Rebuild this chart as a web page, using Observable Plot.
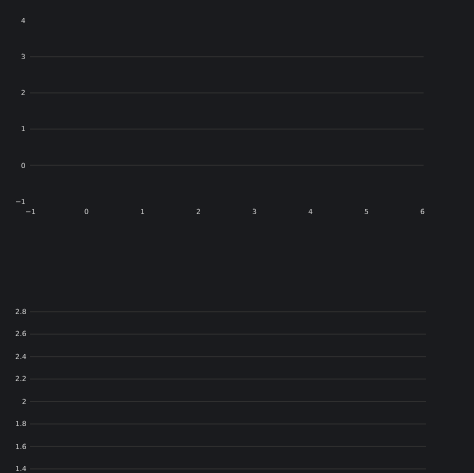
<!DOCTYPE html>
<html>
<head>
<meta charset="utf-8">
<script src="https://cdn.jsdelivr.net/npm/d3@7"></script>
<script src="https://cdn.jsdelivr.net/npm/@observablehq/plot@0.6"></script>
<style>
  html, body { margin: 0; padding: 0; background: #1a1b1e; overflow: hidden; }
  #top, #bottom { display: block; }
  #gap { height: 65px; }
  svg { display: block; filter: grayscale(1); }
</style>
</head>
<body>
<div id="top"></div>
<div id="gap"></div>
<div id="bottom"></div>
<script>
// Top chart
const topXDomain = [-1, 6];
const topYDomain = [-1, 4];
const topXTicks = [-1, 0, 1, 2, 3, 4, 5, 6];
const topYTicks = [-1, 0, 1, 2, 3, 4];
const topGridTicks = [0, 1, 2, 3];

// Bottom chart (cut off at the bottom edge of the window)
const bottomYDomain = [1.35, 2.9];
const bottomYTicks = [1.4, 1.6, 1.8, 2.0, 2.2, 2.4, 2.6, 2.8];

const textColor = "#cfd0d3";
const gridColor = "#2e3035";

const topPlot = Plot.plot({
  width: 474,
  height: 225,
  marginLeft: 30,
  marginRight: 52,
  marginTop: 20,
  marginBottom: 24,
  style: { background: "transparent", color: textColor, fontSize: "7px", fontFamily: "DejaVu Sans, sans-serif" },
  x: { domain: topXDomain },
  y: { domain: topYDomain },
  marks: [
    Plot.gridY(topGridTicks, { stroke: gridColor, strokeOpacity: 1, strokeWidth: 1, x1: -1, x2: 6.03 }),
    Plot.axisX(topXTicks, { tickSize: 0, tickPadding: 8, fill: textColor, tickFormat: d3.format("") }),
    Plot.axisY(topYTicks, { tickSize: 0, tickPadding: 5, fill: textColor, tickFormat: d3.format("") })
  ]
});
document.getElementById("top").append(topPlot);

const bottomPlot = Plot.plot({
  width: 474,
  height: 184,
  marginLeft: 30,
  marginRight: 48,
  marginTop: 10,
  marginBottom: 0,
  style: { background: "transparent", color: textColor, fontSize: "7px", fontFamily: "DejaVu Sans, sans-serif" },
  y: { domain: bottomYDomain },
  x: { domain: [0, 1], axis: null },
  marks: [
    Plot.gridY(bottomYTicks, { stroke: gridColor, strokeOpacity: 1, strokeWidth: 1 }),
    Plot.axisY(bottomYTicks, { tickSize: 0, tickPadding: 4, fill: textColor, tickFormat: d3.format("") })
  ]
});
document.getElementById("bottom").append(bottomPlot);
</script>
</body>
</html>
